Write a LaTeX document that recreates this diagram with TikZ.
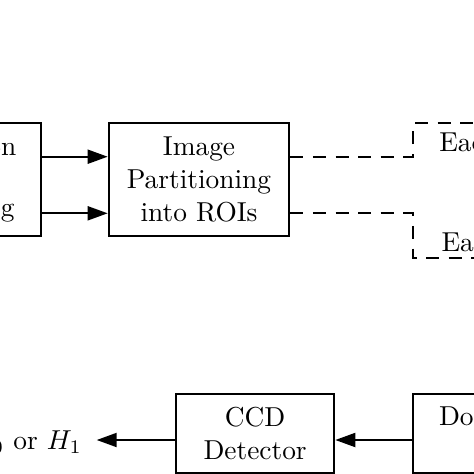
\documentclass[tikz,border=0pt]{standalone}
\usetikzlibrary{arrows.meta}
\begin{document}
\begin{tikzpicture}[x=0.365pt,y=-0.365pt, line width=0.75pt,
  box/.style={draw, rectangle, inner sep=0pt, align=center},
  lbl/.style={inner sep=0pt},
  arr/.style={-{Triangle[length=7.3pt,width=5.1pt]}},
  dsh/.style={dash pattern=on 4.75pt off 3.5pt}]
\useasboundingbox (0,0) rectangle (474,474);
\clip (0,0) rectangle (474,474);
% top row
\node[box, minimum width=54.75pt, minimum height=41.14pt] (leftbox) at (-34.3,179.65) {};
\node[lbl, anchor=base east] (t1) at (17.3,155) {on};
\node[lbl, anchor=base east] (t2) at (15.5,216) {g};
\node[box, minimum width=65.92pt, minimum height=41.14pt] (img) at (199,179.65) {Image\\Partitioning\\into ROIs};
\coordinate (a1) at (70,156.7);
\coordinate (a2) at (70,213.3);
\draw[arr] (leftbox.east |- a1) -- (img.west |- a1);
\draw[arr] (leftbox.east |- a2) -- (img.west |- a2);
\coordinate (d1) at (413.3,156.7);
\coordinate (d2) at (413.3,123.3);
\coordinate (d3) at (480,123.3);
\draw[dsh] (img.east |- d1) -- (d1) -- (d2) -- (d3);
\coordinate (e1) at (413.3,213.3);
\coordinate (e2) at (413.3,258.3);
\coordinate (e3) at (480,258.3);
\draw[dsh] (img.east |- e1) -- (e1) -- (e2) -- (e3);
\node[lbl, anchor=base west] (each1) at (438.3,151.7) {Each};
\node[lbl, anchor=base west] (each2) at (440.5,251.7) {Each};
% bottom row
\node[box, minimum width=57.78pt, minimum height=29.02pt] (ccd) at (255.15,433.75) {CCD\\Detector};
\node[box, minimum width=57.78pt, minimum height=29.02pt] (do) at (492.45,433.75) {};
\node[lbl, anchor=base west] (dotxt) at (438,425) {Do};
\coordinate (b1) at (300,440);
\draw[arr] (do.west |- b1) -- (ccd.east |- b1);
\coordinate (out) at (96.7,440);
\draw[arr] (ccd.west |- out) -- (out);
\node[lbl, anchor=base east] (hyp) at (83,449) {$H_0$ or $H_1$};
\end{tikzpicture}
\end{document}
